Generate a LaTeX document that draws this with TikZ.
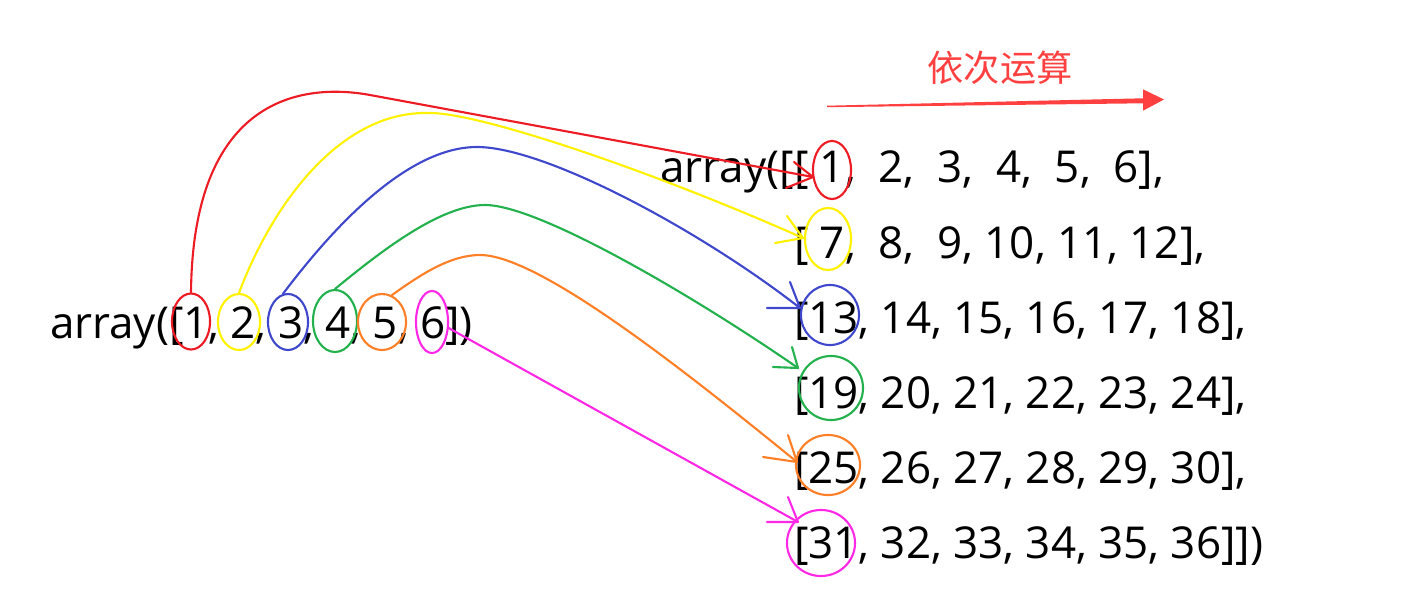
\documentclass[tikz,border=0pt]{standalone}
\usepackage{fontspec}
\setmainfont{Open Sans}
\newfontfamily\cjk{Noto Sans CJK SC}
\usetikzlibrary{shapes.geometric}
\definecolor{cR}{RGB}{237,28,36}
\definecolor{cY}{RGB}{255,242,0}
\definecolor{cB}{RGB}{63,72,204}
\definecolor{cG}{RGB}{34,177,76}
\definecolor{cO}{RGB}{255,127,39}
\definecolor{cM}{RGB}{255,40,230}
\definecolor{cA}{RGB}{255,64,64}
\begin{document}
\begin{tikzpicture}[x=0.01cm,y=-0.01cm,line width=0.6pt,
  txt/.style={anchor=base west,inner sep=0pt,font=\fontsize{12.5}{15}\selectfont},
  ring/.style n args={3}{ellipse,draw=#1,inner sep=0pt,minimum width=#2,minimum height=#3},
  conn/.style={draw=#1,line cap=round,line join=round}]
\useasboundingbox (0,0) rectangle (1415,600);
% texts
\node[txt] (left) at (49,338) {array([1, 2, 3, 4, 5, 6])};
\node[txt] (row1) at (793,182) {\llap{array([}[\ 1,\ \ 2,\ \ 3,\ \ 4,\ \ 5,\ \ 6],};
\node[txt] (row2) at (793,258) {[\ 7,\ \ 8,\ \ 9, 10, 11, 12],};
\node[txt] (row3) at (793,333) {[13, 14, 15, 16, 17, 18],};
\node[txt] (row4) at (793,408) {[19, 20, 21, 22, 23, 24],};
\node[txt] (row5) at (793,483) {[25, 26, 27, 28, 29, 30],};
\node[txt] (row6) at (793,558) {[31, 32, 33, 34, 35, 36]])};
% left rings
\node[ring={cR}{0.38cm}{0.56cm}] (l1) at (191,321.5) {};
\node[ring={cY}{0.42cm}{0.56cm}] (l2) at (239,322) {};
\node[ring={cB}{0.40cm}{0.56cm}] (l3) at (288,322) {};
\node[ring={cG}{0.44cm}{0.62cm}] (l4) at (335,321) {};
\node[ring={cO}{0.48cm}{0.56cm}] (l5) at (382,322) {};
\node[ring={cM}{0.32cm}{0.62cm}] (l6) at (432,322) {};
% right rings
\node[ring={cR}{0.38cm}{0.58cm}] (r1) at (832,170) {};
\node[ring={cY}{0.46cm}{0.62cm}] (r2) at (828,239) {};
\node[ring={cB}{0.58cm}{0.60cm}] (r3) at (830,315) {};
\node[ring={cG}{0.64cm}{0.64cm}] (r4) at (831,388) {};
\node[ring={cO}{0.64cm}{0.60cm}] (r5) at (828,465) {};
\node[ring={cM}{0.68cm}{0.66cm}] (r6) at (821,543) {};
% arrow tips
\coordinate (t1) at (813,177);
\coordinate (t2) at (803,238);
\coordinate (t3) at (800,308);
\coordinate (t4) at (798,368);
\coordinate (t5) at (797,462);
\coordinate (t6) at (798,522);
% connectors
\draw[conn=cR] (l1.north) .. controls (193,90) and (310,84) .. (370,95) -- (t1);
\draw[conn=cR] (t1) -- ++(-19,-15) (t1) -- ++(-27,11);
\draw[conn=cY] (l2.north) .. controls (268,215) and (335,110) .. (430,113) .. controls (480,113) and (650,170) .. (t2);
\draw[conn=cY] (t2) -- ++(-16,-22) (t2) -- ++(-28,5);
\draw[conn=cB] (l3.100) .. controls (320,245) and (400,147) .. (477,147) .. controls (545,147) and (700,230) .. (t3);
\draw[conn=cB] (t3) -- ++(-33,0) (t3) -- ++(-10,-26);
\draw[conn=cG] (l4.north) .. controls (380,252) and (440,205) .. (485,205) .. controls (540,205) and (700,300) .. (t4);
\draw[conn=cG] (t4) -- ++(-25,-1) (t4) -- ++(-6,-21);
\draw[conn=cO] (l5.70) .. controls (420,275) and (450,255) .. (480,255) .. controls (540,255) and (690,375) .. (t5);
\draw[conn=cO] (t5) -- ++(-34,-5) (t5) -- ++(-9,-27);
\draw[conn=cM] (l6.-20) -- (t6);
\draw[conn=cM] (t6) -- ++(-31,0) (t6) -- ++(-10,-25);
% order arrow and label
\fill[cA] (827,105.7) -- (1143,98.3) -- (1143,89.3) -- (1164,99.5) -- (1143,110.7) -- (1143,103.3) -- (827,107.2) -- cycle;
\node[font=\cjk\fontsize{10.3}{12}\selectfont,text=cA,inner sep=0pt] (lbl) at (1000,68) {依次运算};
\end{tikzpicture}
\end{document}
